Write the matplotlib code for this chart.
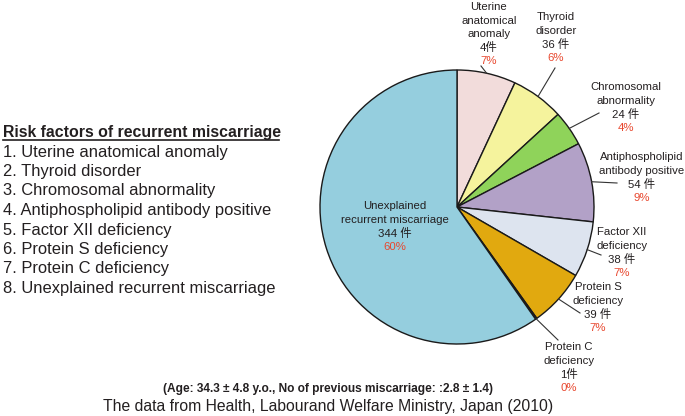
import numpy as np
import matplotlib as mpl
mpl.use('Agg')
import matplotlib.pyplot as plt

plt.rcParams['font.family'] = ['Liberation Sans', 'Noto Sans CJK JP']

# slices clockwise from the top
names = ["Uterine\nanatomical\nanomaly", "Thyroid\ndisorder", "Chromosomal\nabnormality",
         "Antiphospholipid\nantibody positive", "Factor XII\ndeficiency",
         "Protein S\ndeficiency", "Protein C\ndeficiency",
         "Unexplained\nrecurrent miscarriage"]
counts = [40, 36, 24, 54, 38, 39, 1, 344]
count_text = ["4件", "36 件", "24 件", "54 件", "38 件", "39 件", "1件", "344 件"]
colors = ["#f2dcdb", "#f5f39d", "#8fd35a", "#b2a1c7", "#dde4ef", "#e1a90f", "#5a2a7c", "#95cede"]

risk_list = ["1. Uterine anatomical anomaly", "2. Thyroid disorder", "3. Chromosomal abnormality",
             "4. Antiphospholipid antibody positive", "5. Factor XII deficiency",
             "6. Protein S deficiency", "7. Protein C deficiency",
             "8. Unexplained recurrent miscarriage"]

W, H = 685, 416
fig = plt.figure(figsize=(6.85, 4.16), dpi=100)
ax = fig.add_axes([0, 0, 1, 1])

def Y(p):
    return H - p

cx, cy, r = 457, 207, 137
wedges, _ = ax.pie(counts, colors=colors, startangle=90, counterclock=False,
                   center=(cx, Y(cy)), radius=r,
                   wedgeprops=dict(edgecolor='#1a1a1a', linewidth=1.0))
ax.set_xlim(0, W)
ax.set_ylim(0, H)
ax.set_aspect('equal')
ax.axis('off')

total = sum(counts)
pcts = ["%d%%" % round(c * 100.0 / total) for c in counts]

# label placement (first line centre) and leader line end points, in pixels
lab_pos = [(489, 7), (556, 17), (626, 87), (642, 157), (622, 232), (598, 287), (569, 347), (395, 206)]
line_end = [(481, 66), (555, 68), (599, 113), (617, 183), (601, 255), (580, 313), (558, 340), None]
step = 13.6
txt = '#231f20'
red = '#e8472e'
fs = 8.2

for i, w in enumerate(wedges):
    lines = names[i].split('\n') + [count_text[i]]
    x0, y0 = lab_pos[i]
    for k, s in enumerate(lines):
        ax.text(x0, Y(y0 + k * step), s, ha='center', va='center', fontsize=fs, color=txt)
    ax.text(x0, Y(y0 + len(lines) * step), pcts[i], ha='center', va='center', fontsize=fs, color=red)
    if line_end[i] is not None:
        a = np.deg2rad((w.theta1 + w.theta2) / 2)
        ex, ey = cx + r * np.cos(a), Y(cy) + r * np.sin(a)
        lx, ly = line_end[i]
        ax.plot([ex, lx], [ey, Y(ly)], color='#333333', lw=0.8)

# left side list
ax.text(3, Y(132), "Risk factors of recurrent miscarriage", ha='left', va='center',
        fontsize=11.4, fontweight='bold', color=txt)
ax.plot([3, 279], [Y(139.5), Y(139.5)], color=txt, lw=1.2)
for k, s in enumerate(risk_list):
    ax.text(3, Y(152 + k * 19.5), s, ha='left', va='center', fontsize=11.9, color=txt)

ax.text(328, Y(389), "(Age: 34.3 \u00b1 4.8 y.o., No of previous miscarriage: :2.8 \u00b1 1.4)",
        ha='center', va='center', fontsize=8.6, fontweight='bold', color=txt)
ax.text(328, Y(406), "The data from Health, Labourand Welfare Ministry, Japan (2010)",
        ha='center', va='center', fontsize=11.35, color=txt)

fig.savefig('out.png', dpi=100)
